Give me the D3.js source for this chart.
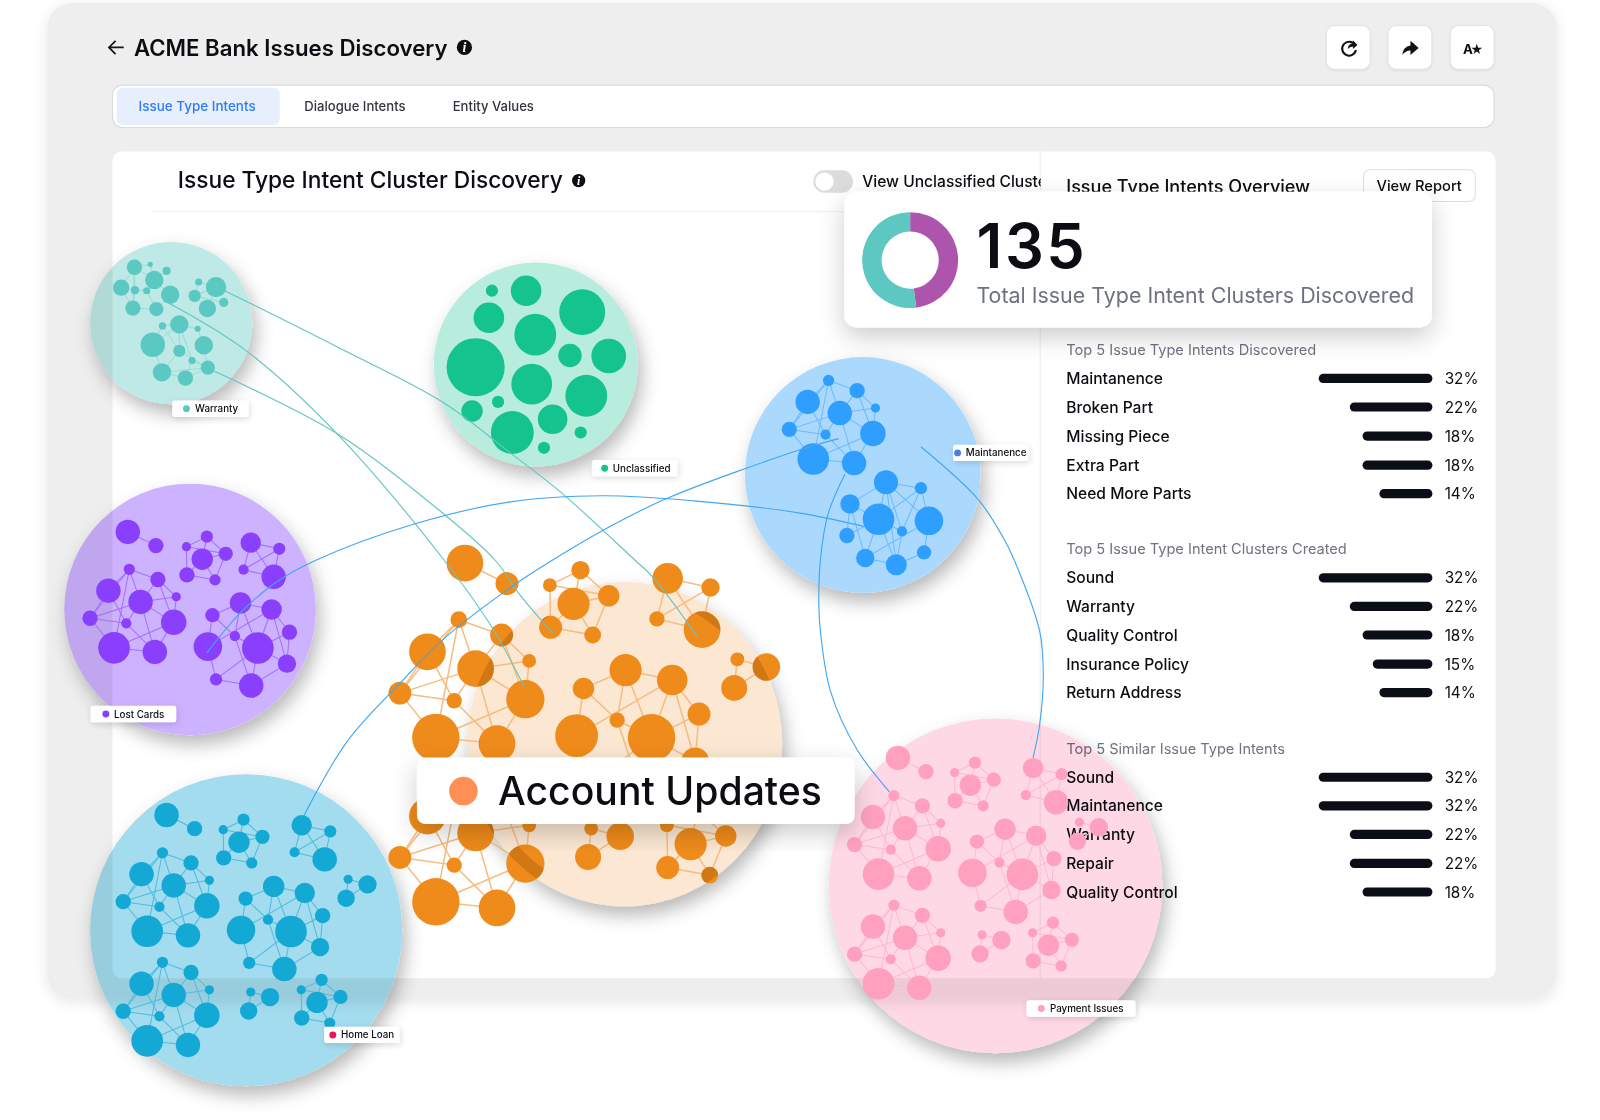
<!DOCTYPE html>
<html>
<head>
<meta charset="utf-8">
<title>ACME Bank Issues Discovery</title>
<script src="https://cdn.jsdelivr.net/npm/d3@7"></script>
<style>
    html, body { margin: 0; padding: 0; background: #fff; }
    svg { display: block; font-family: Inter, "Noto Sans", sans-serif; }
    text { fill: #0c0d12; }
</style>
</head>
<body>
<svg id="chart" width="1600" height="1120" viewBox="0 0 1568 1098"></svg>
<script>
/* bar lists */
var discoveredLabels = ["Maintanence", "Broken Part", "Missing Piece", "Extra Part", "Need More Parts"];
var discoveredValues = [32, 22, 18, 18, 14];
var createdLabels = ["Sound", "Warranty", "Quality Control", "Insurance Policy", "Return Address"];
var createdValues = [32, 22, 18, 15, 14];
var similarLabels = ["Sound", "Maintanence", "Warranty", "Repair", "Quality Control"];
var similarValues = [32, 32, 22, 22, 18];

/* donut */
var donutValues = [48, 52];
var donutColors = ["#ad55ad", "#5cc8c1"];

/* node tables: x, y, size */
var pairNodes = [[163, 799, 12], [190.5, 812.4, 7.5]];
var pairEdges = [[0, 1]];
var pentNodes = [[238.5, 803.6, 6], [218.5, 813.4, 4.5], [234, 825.7, 10.5], [257, 820.4, 7], [219, 841, 7.5], [246.5, 846, 5.5]];
var pentEdges = [[0, 1], [0, 2], [0, 3], [1, 3], [1, 4], [2, 3], [2, 4], [2, 5], [3, 5], [4, 5]];
var squareNodes = [[295.5, 809, 10], [323.5, 815, 6], [288.5, 835.5, 5], [318, 842.5, 12]];
var squareEdges = [[0, 1], [0, 2], [0, 3], [1, 2], [1, 3], [2, 3]];
var bigNodes = [[159, 836, 5.5], [187, 846, 7.5], [138.5, 857, 12], [170, 868, 12], [205, 863, 4.5], [120.5, 884, 7.5], [156, 889, 5], [202.5, 888, 12.5], [144, 913, 15.5], [184, 917, 12]];
var bigEdges = [[0, 1], [0, 2], [0, 5], [0, 8], [0, 3], [1, 3], [1, 4], [1, 7], [3, 4], [3, 7], [3, 9], [2, 6], [2, 5], [5, 3], [5, 6], [5, 8], [6, 3], [6, 9], [7, 8], [7, 4], [7, 9], [8, 9]];
var centreNodes = [[268, 869, 10.5], [298.5, 875.4, 10], [240.5, 881, 7], [316, 897.7, 7.5], [262.5, 901.6, 5], [236, 911.8, 14], [285, 913.2, 15.5], [313.5, 928.5, 9], [244, 944, 6], [278.5, 950, 12]];
var centreEdges = [[0, 1], [0, 2], [0, 4], [0, 6], [1, 5], [1, 3], [1, 6], [1, 7], [2, 4], [2, 5], [3, 6], [3, 7], [4, 6], [4, 9], [5, 8], [6, 8], [6, 9], [7, 9], [8, 9], [6, 7]];
var trioNodes = [[341, 862, 4.5], [360, 867, 9], [339, 880.6, 8.5]];
var trioEdges = [[0, 1], [0, 2], [1, 2]];

/* maintanence lower network is laid out differently */
var maintanenceLowNodes = [[868.3, 472.7, 11.8], [902.6, 478.6, 6], [833, 494, 9.5], [861, 509, 15.5], [910.4, 510.6, 14], [884, 521, 5], [830, 525, 7.5], [848, 547, 9], [878.4, 553.7, 10.3], [905.6, 541.6, 7]];
var maintanenceLowEdges = [[0, 1], [0, 2], [0, 3], [0, 4], [0, 5], [0, 8], [1, 3], [1, 5], [1, 4], [2, 3], [2, 6], [2, 7], [3, 7], [3, 6], [3, 8], [3, 5], [4, 9], [4, 7], [5, 8], [7, 8], [8, 9]];

/* warranty has its own smaller networks */
var warrantyLeftNodes = [[131.5, 262, 7.5], [147, 259, 2.5], [163, 265.6, 4], [151, 274.4, 9], [118.5, 282, 8], [132, 284.5, 4], [143.5, 285, 3.5], [166.5, 289, 9], [130, 302, 7.5], [153, 303, 7]];
var warrantyLeftEdges = [[0, 1], [0, 3], [0, 4], [0, 5], [0, 8], [3, 7], [3, 6], [4, 5], [4, 8], [5, 6], [5, 8], [6, 9], [8, 9], [9, 7], [1, 3]];
var warrantyRightNodes = [[194.5, 276.5, 3.5], [211.5, 281.5, 10], [190.5, 290, 6], [219, 296.5, 4.5], [203, 302.4, 8.5]];
var warrantyRightEdges = [[0, 1], [0, 2], [1, 2], [1, 4], [2, 4], [2, 3]];
var warrantyLowNodes = [[175.5, 318, 9], [159, 319.5, 3.5], [193.5, 322.4, 3], [149.5, 338, 12], [175.5, 344, 6], [199.5, 338.5, 9], [188, 353.5, 3.5], [203.5, 360.5, 7], [158.5, 365, 9], [181.5, 370.6, 7.5]];
var warrantyLowEdges = [[0, 1], [0, 2], [0, 4], [0, 6], [1, 3], [1, 4], [2, 5], [3, 8], [4, 8], [4, 7], [5, 7], [6, 7], [6, 9], [8, 7], [8, 9], [9, 7], [0, 3]];

/* unclassified has loose nodes only */
var unclassifiedX = [482, 515.5, 570.5, 479, 524.5, 466, 558.5, 596.5, 521, 574.5, 462.5, 488, 541.5, 502, 569, 533];
var unclassifiedY = [285, 285, 306, 311.5, 328, 360, 348.5, 349, 376.6, 388, 403, 394, 411, 424, 424, 439];
var unclassifiedSize = [6, 15, 22.5, 15, 20.5, 28.5, 11.5, 17, 20, 20.5, 10.5, 6, 14.5, 21, 6, 6];

var clusterTables = {
    pair: [pairNodes, pairEdges], pent: [pentNodes, pentEdges], square: [squareNodes, squareEdges],
    big: [bigNodes, bigEdges], centre: [centreNodes, centreEdges], trio: [trioNodes, trioEdges],
    mLow: [maintanenceLowNodes, maintanenceLowEdges],
    wLeft: [warrantyLeftNodes, warrantyLeftEdges], wRight: [warrantyRightNodes, warrantyRightEdges], wLow: [warrantyLowNodes, warrantyLowEdges]
};

/* bubbles */
var bubbleNames = ["Warranty", "Unclassified", "Maintanence", "Lost Cards", "Account Updates", "Home Loan", "Payment Issues"];
var bubbleX = [167.5, 525, 845.5, 186, 612, 241, 975.7];
var bubbleY = [316.7, 357.4, 465.6, 597.5, 729.5, 912, 868.5];
var bubbleSizeX = [79.5, 100, 115.5, 123.3, 154.5, 153, 163.5];
var bubbleSizeY = [79.5, 100, 115.5, 123.3, 159, 153, 164];
var bubbleFill = ["#bee9e6", "#b8eddd", "#abd9fe", "#cdb2ff", "#fbe7d2", "#a3dcee", "#ffd8e6"];
var nodeFill = ["#5bc8c1", "#14c38e", "#2e9fff", "#8a3ffc", "#ef8b1a", "#14a8d5", "#ffa0bf"];
var edgeFill = ["#8ed9d4", "#14c38e", "#6cbaff", "#a270fd", "#f6bd80", "#4cbcde", "#ffb8d0"];
var tagDot = ["#5bc8c1", "#14c38e", "#4a80dc", "#8a3ffc", null, "#e8175d", "#ffa0bf"];

/* which networks sit in which bubble: table, shift x, shift y */
var fullLayout = [["pair", 0, 0], ["pent", 0, 0], ["square", 0, 0], ["big", 0, 0], ["centre", 0, 0], ["trio", 0, 0], ["big", 0, 107.4], ["trio", -95.5, 110.5], ["pent", 76.5, 157]];
var bubbleLayouts = {
    "Warranty": { scale: 1, x: 0, y: 0, parts: [["wLeft", 0, 0], ["wRight", 0, 0], ["wLow", 0, 0]] },
    "Maintanence": { scale: 1, x: 0, y: 0, parts: [["big", 653, -463], ["mLow", 0, 0]] },
    "Lost Cards": { scale: 1, x: 0, y: 0, parts: [["pair", -38, -277.5], ["pent", -36, -277.5], ["square", -50, -277], ["big", -32.5, -277.9], ["centre", -32.5, -277.9]] },
    "Account Updates": { scale: 1.5, x: 211, y: -646.5, parts: fullLayout },
    "Home Loan": { scale: 1, x: 0, y: 0, parts: fullLayout },
    "Payment Issues": { scale: 1, x: 717, y: -56, parts: fullLayout }
};

/* connecting curves */
var tealLinks = [
    [[220, 285], [330, 340], [435, 395], [500, 444], [550, 483], [622, 549], [640, 566], [684, 625]],
    [[165, 297], [240, 343], [330, 425], [435, 549], [482, 615], [514, 674]],
    [[210, 364], [330, 425], [430, 500], [485, 549], [510, 584], [541.5, 620.5]]
];
var blueLinks = [
    [[202.5, 640], [235, 601], [270, 571], [310, 549], [405, 514], [500, 492], [590, 486], [680, 491], [784, 503], [846.5, 516]],
    [[297.5, 800], [340, 727], [392, 669.6], [434, 627], [506.6, 571.5], [541.5, 549], [600, 515], [655, 488], [784, 441], [822, 430]],
    [[828, 465], [811.5, 504], [804, 549], [802.5, 594], [804, 619], [814, 678], [840, 735], [871.5, 776]],
    [[902.5, 438], [959, 490], [984, 528.5], [994, 549], [1019, 619], [1022.5, 661], [1019, 710], [1012.5, 743]]
];

var tagX = [168.5, 580, 934, 88.5, null, 317.5, 1006];
var tagY = [392.7, 451, 436, 692, null, 1006.6, 980.7];
var tagW = [75, 84, 74, 84, null, 74, 107];
var tagDotDx = [14, 12.5, 4.5, 15, null, 8.5, 14.5];
var tagTextDx = [22.5, 20.5, 12.5, 23, null, 16.5, 23];

var svg = d3.select("#chart");
var defs = svg.append("defs");

function shadow(id, dx, dy, blur, alpha) {
    var f = defs.append("filter").attr("id", id).attr("x", "-40%").attr("y", "-40%").attr("width", "180%").attr("height", "180%");
    f.append("feDropShadow").attr("dx", dx).attr("dy", dy).attr("stdDeviation", blur)
        .attr("flood-color", "#000").attr("flood-opacity", alpha);
}
shadow("bubbleShadow", 4, 9, 9, 0.28);
shadow("cardShadow", 0, 9, 12, 0.2);
shadow("outerShadow", 0, 3, 6, 0.1);
shadow("tagShadow", 1, 2, 3, 0.14);
shadow("softShadow", 0, 1, 1, 0.08);

defs.append("clipPath").attr("id", "leftPane").append("rect")
    .attr("x", 110).attr("y", 148).attr("width", 910).attr("height", 811);

/* ---------- shell ---------- */
svg.append("rect").attr("x", 46).attr("y", 3).attr("width", 1480).attr("height", 976).attr("rx", 24)
    .attr("fill", "#eeeeee").attr("filter", "url(#outerShadow)");

function infoIcon(cx, cy, r) {
    var g = svg.append("g");
    g.append("ellipse").attr("cx", cx).attr("cy", cy).attr("rx", r).attr("ry", r).attr("fill", "#0c0d14");
    g.append("text").attr("x", cx).attr("y", cy + r * 0.62).attr("text-anchor", "middle")
        .attr("font-family", "Liberation Serif").attr("font-style", "italic").attr("font-weight", 700)
        .attr("font-size", r * 1.8).style("fill", "#fff").text("i");
}

svg.append("path").attr("d", "M121 46.5H107 M113 40L106.5 46.5L113 53").attr("fill", "none")
    .attr("stroke", "#16171f").attr("stroke-width", 1.7);
svg.append("text").attr("x", 131).attr("y", 54.5).attr("font-size", 21.8).attr("font-weight", 600).text("ACME Bank Issues Discovery");
infoIcon(455, 46.5, 7.5);

var buttonX = [1300, 1360.5, 1421.5];
svg.selectAll(".btn").data(buttonX).enter().append("rect").attr("class", "btn")
    .attr("x", function (d) { return d; }).attr("y", 25).attr("width", 43).attr("height", 43).attr("rx", 8)
    .attr("fill", "#fff").attr("stroke", "#e2e2e2").attr("filter", "url(#softShadow)");
svg.append("path").attr("d", "M1328 44A6.8 6.8 0 1 0 1329 49").attr("fill", "none").attr("stroke", "#111").attr("stroke-width", 2);
svg.append("path").attr("d", "M1321 48Q1321.5 43 1326 42.5V39.5L1330.5 44L1326 48V45.5Q1323 45.5 1321 48Z").attr("fill", "#111");
svg.append("path").attr("d", "M1374.5 54Q1375 45.5 1382.5 44.5V40L1390.5 47L1382.5 54V49.5Q1377.5 49.5 1374.5 54Z").attr("fill", "#111");
svg.append("text").attr("x", 1434).attr("y", 53).attr("font-size", 13).attr("font-weight", 700).text("A");
svg.append("path").attr("d", d3.symbol(d3.symbolStar, 34)).attr("transform", "translate(1447.5,48.5)").attr("fill", "#111");

svg.append("rect").attr("x", 110).attr("y", 83.5).attr("width", 1354.5).attr("height", 41.5).attr("rx", 10)
    .attr("fill", "#fff").attr("stroke", "#dcdcdc").attr("stroke-width", 1.2);
svg.append("rect").attr("x", 114).attr("y", 86).attr("width", 160).attr("height", 36.5).attr("rx", 6).attr("fill", "#e7effc");

var tabLabels = ["Issue Type Intents", "Dialogue Intents", "Entity Values"];
var tabX = [135.5, 298, 443.5];
svg.selectAll(".tab").data(tabLabels).enter().append("text").attr("class", "tab")
    .attr("x", function (d, i) { return tabX[i]; }).attr("y", 108.5).attr("font-weight", 500)
    .attr("font-size", function (d, i) { return i == 0 ? 13.2 : 12.85; })
    .style("fill", function (d, i) { return i == 0 ? "#2f7bf6" : "#33353f"; })
    .text(function (d) { return d; });

svg.append("rect").attr("x", 110).attr("y", 148.5).attr("width", 1356).attr("height", 810.5).attr("rx", 9).attr("fill", "#fff");
svg.append("line").attr("x1", 1019.5).attr("x2", 1019.5).attr("y1", 148.5).attr("y2", 959).attr("stroke", "#ececec");
svg.append("line").attr("x1", 148).attr("x2", 1019).attr("y1", 207.5).attr("y2", 207.5).attr("stroke", "#f0f0f0").attr("stroke-width", 1.2);
svg.append("text").attr("x", 174).attr("y", 184.5).attr("font-size", 22.3).attr("font-weight", 500).text("Issue Type Intent Cluster Discovery");
infoIcon(567, 177, 6.5);

svg.append("rect").attr("x", 797).attr("y", 167).attr("width", 39).attr("height", 22).attr("rx", 11).attr("fill", "#dcdcdc");
svg.append("circle").attr("cx", 808).attr("cy", 178).attr("r", 9).attr("fill", "#fff");
svg.append("text").attr("x", 845).attr("y", 183.5).attr("font-size", 15.3).attr("font-weight", 500)
    .attr("clip-path", "url(#leftPane)").text("View Unclassified Clusters");

svg.append("text").attr("x", 1045).attr("y", 189).attr("font-size", 17.7).attr("font-weight", 500).text("Issue Type Intents Overview");
svg.append("rect").attr("x", 1336.5).attr("y", 166.5).attr("width", 109.5).attr("height", 31).attr("rx", 6)
    .attr("fill", "#fff").attr("stroke", "#dedede");
svg.append("text").attr("x", 1391).attr("y", 187.5).attr("text-anchor", "middle").attr("font-size", 14.4).attr("font-weight", 500).text("View Report");

/* ---------- bar lists ---------- */
// the bars in the picture do not grow quite in proportion, so the scale has several stops
var barScale = d3.scaleLinear().domain([14, 15, 18, 22, 32]).range([52, 58.5, 68.5, 81, 111.5]);
var BAR_RIGHT = 1404;

function drawList(title, labels, values, titleY, rowY) {
    var g = svg.append("g");
    g.append("text").attr("x", 1045).attr("y", titleY).attr("font-size", 14.3).attr("font-weight", 400)
        .style("fill", "#6f7380").text(title);
    var rows = g.selectAll(".row").data(labels).enter().append("g").attr("class", "row")
        .attr("transform", function (d, i) { return "translate(0," + rowY[i] + ")"; });
    rows.append("text").attr("x", 1045).attr("y", 5.5).attr("font-size", 15.3).attr("font-weight", 500)
        .text(function (d) { return d; });
    rows.append("rect")
        .attr("x", function (d, i) { return BAR_RIGHT - barScale(values[i]); })
        .attr("y", -4.5).attr("height", 9).attr("rx", 4.5)
        .attr("width", function (d, i) { return barScale(values[i]); })
        .attr("fill", "#0b0d17");
    rows.append("text").attr("x", 1416).attr("y", 5.5).attr("font-size", 15).attr("font-weight", 400)
        .text(function (d, i) { return values[i] + "%"; });
}
drawList("Top 5 Issue Type Intents Discovered", discoveredLabels, discoveredValues, 348, [371, 399, 427.5, 456, 484]);
drawList("Top 5 Issue Type Intent Clusters Created", createdLabels, createdValues, 543.5, [566.5, 594.5, 622.5, 651, 679]);
drawList("Top 5 Similar Issue Type Intents", similarLabels, similarValues, 739, [762, 790, 818, 846.5, 874.5]);

/* ---------- bubbles ---------- */
var bubbleLayer = svg.append("g");
bubbleLayer.selectAll("ellipse").data(bubbleNames).enter().append("ellipse")
    .attr("cx", function (d, i) { return bubbleX[i]; })
    .attr("cy", function (d, i) { return bubbleY[i]; })
    .attr("rx", function (d, i) { return bubbleSizeX[i]; })
    .attr("ry", function (d, i) { return bubbleSizeY[i]; })
    .attr("fill", function (d, i) { return bubbleFill[i]; })
    .attr("filter", "url(#bubbleShadow)")
    .style("mix-blend-mode", "multiply");

var unclassifiedIndex = bubbleNames.indexOf("Unclassified");
svg.append("g").selectAll("circle").data(unclassifiedX).enter().append("circle")
    .attr("cx", function (d) { return d; })
    .attr("cy", function (d, i) { return unclassifiedY[i]; })
    .attr("r", function (d, i) { return unclassifiedSize[i]; })
    .attr("fill", nodeFill[unclassifiedIndex]);

function drawNetworks(name) {
    var layout = bubbleLayouts[name];
    var idx = bubbleNames.indexOf(name);
    var g = svg.append("g").attr("class", "net");
    var sizeScale = d3.scaleLinear().domain([0, 1]).range([0, layout.scale]);
    layout.parts.forEach(function (part) {
        var table = clusterTables[part[0]];
        var nodes = table[0], edges = table[1];
        var x0 = layout.x + part[1] * layout.scale, y0 = layout.y + part[2] * layout.scale;
        var x = d3.scaleLinear().domain([0, 1]).range([x0, x0 + layout.scale]);
        var y = d3.scaleLinear().domain([0, 1]).range([y0, y0 + layout.scale]);
        g.append("g").selectAll("line").data(edges).enter().append("line")
            .attr("x1", function (e) { return x(nodes[e[0]][0]); })
            .attr("y1", function (e) { return y(nodes[e[0]][1]); })
            .attr("x2", function (e) { return x(nodes[e[1]][0]); })
            .attr("y2", function (e) { return y(nodes[e[1]][1]); })
            .attr("stroke", edgeFill[idx])
            .attr("stroke-width", name == "Warranty" ? 0.8 : 1 * layout.scale);
        g.append("g").selectAll("circle").data(nodes).enter().append("circle")
            .attr("class", "node")
            .attr("cx", function (n) { return x(n[0]); })
            .attr("cy", function (n) { return y(n[1]); })
            .attr("r", function (n) { return sizeScale(n[2]); })
            .attr("fill", nodeFill[idx]);
    });
    return g;
}
var netNames = ["Warranty", "Maintanence", "Lost Cards", "Account Updates", "Home Loan", "Payment Issues"];
var netGroups = netNames.map(drawNetworks);

/* orange nodes darken where they cross the lower rim of their bubble */
var orangeIndex = bubbleNames.indexOf("Account Updates");
var rimClip = defs.append("clipPath").attr("id", "orangeNodes");
netGroups[netNames.indexOf("Account Updates")].selectAll(".node").each(function () {
    var c = d3.select(this);
    if (+c.attr("cy") < 610) return;
    rimClip.append("circle").attr("cx", c.attr("cx")).attr("cy", c.attr("cy")).attr("r", c.attr("r"));
});
svg.append("g").attr("clip-path", "url(#orangeNodes)").append("ellipse")
    .attr("cx", bubbleX[orangeIndex]).attr("cy", bubbleY[orangeIndex])
    .attr("rx", bubbleSizeX[orangeIndex] - 6).attr("ry", bubbleSizeY[orangeIndex] - 6)
    .attr("fill", "none").attr("stroke", "#5a2800").attr("stroke-opacity", 0.2).attr("stroke-width", 12);

/* ---------- connecting curves ---------- */
var curve = d3.line().curve(d3.curveCatmullRom.alpha(0.5));
svg.append("g").selectAll("path").data(tealLinks).enter().append("path")
    .attr("d", curve).attr("fill", "none").attr("stroke", "#63c4c0").attr("stroke-width", 1.1);
svg.append("g").selectAll("path").data(blueLinks).enter().append("path")
    .attr("d", curve).attr("fill", "none").attr("stroke", "#3ea6f4").attr("stroke-width", 1.1);

/* ---------- name tags ---------- */
var tags = svg.append("g").selectAll("g").data(bubbleNames.filter(function (d, i) { return tagX[i] != null; })).enter().append("g")
    .attr("transform", function (d) { var i = bubbleNames.indexOf(d); return "translate(" + tagX[i] + "," + tagY[i] + ")"; });
tags.append("rect").attr("height", 16).attr("rx", 2.5)
    .attr("width", function (d) { return tagW[bubbleNames.indexOf(d)]; })
    .attr("fill", "#fff").attr("filter", "url(#tagShadow)");
tags.append("circle").attr("cy", 8).attr("r", 3.4)
    .attr("cx", function (d) { return tagDotDx[bubbleNames.indexOf(d)]; })
    .attr("fill", function (d) { return tagDot[bubbleNames.indexOf(d)]; });
tags.append("text").attr("y", 11.5).attr("font-size", 9.6).attr("font-weight", 500)
    .attr("x", function (d) { return tagTextDx[bubbleNames.indexOf(d)]; })
    .text(function (d) { return d; });

/* ---------- account updates card ---------- */
svg.append("rect").attr("x", 408.5).attr("y", 742.7).attr("width", 429).attr("height", 65).attr("rx", 8)
    .attr("fill", "#fff").attr("filter", "url(#cardShadow)");
svg.append("circle").attr("cx", 454).attr("cy", 775.5).attr("r", 14).attr("fill", "#ff8f55");
svg.append("text").attr("x", 488).attr("y", 789).attr("font-size", 38.4).attr("font-weight", 500).text("Account Updates");

/* ---------- total card ---------- */
svg.append("rect").attr("x", 827.5).attr("y", 188).attr("width", 576).attr("height", 133).attr("rx", 12)
    .attr("fill", "#fff").attr("filter", "url(#cardShadow)");
var arc = d3.arc().innerRadius(28).outerRadius(47);
var pie = d3.pie().sort(null);
svg.append("g").attr("transform", "translate(892,255)").selectAll("path").data(pie(donutValues)).enter().append("path")
    .attr("d", arc).attr("fill", function (d, i) { return donutColors[i]; });
svg.append("text").attr("x", 957).attr("y", 262.5).attr("font-size", 60).attr("font-weight", 600)
    .attr("letter-spacing", 2.5).text("135");
svg.append("text").attr("x", 957).attr("y", 297.5).attr("font-size", 21).attr("font-weight", 400)
    .style("fill", "#6d7180").text("Total Issue Type Intent Clusters Discovered");
</script>
</body>
</html>
